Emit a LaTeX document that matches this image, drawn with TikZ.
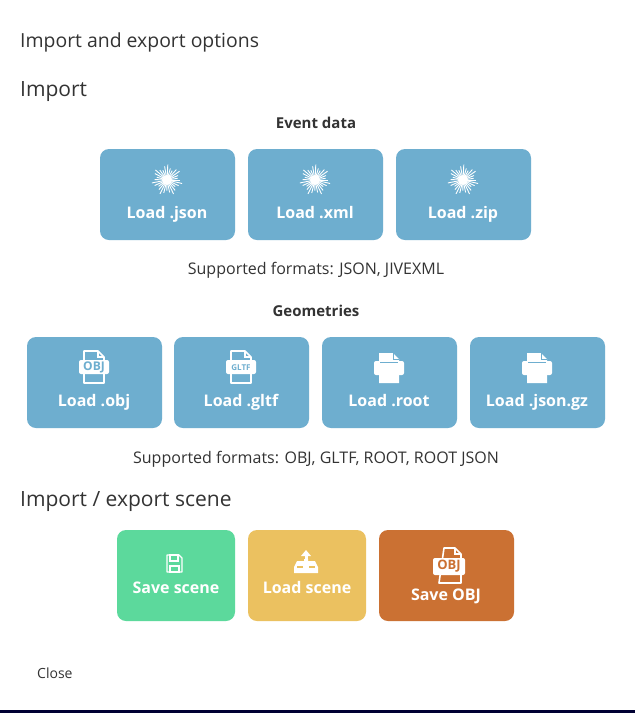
\documentclass[tikz,border=0pt]{standalone}
\usepackage{fontspec}
\setmainfont{Open Sans}
\begin{document}
\begin{tikzpicture}[x=1pt,y=-1pt,
  btn/.style={fill=#1,rounded corners=9pt,draw=none},
  btxt/.style={text=white,font=\fontsize{16}{18}\selectfont\bfseries,inner sep=0pt,anchor=base},
  lbl/.style={text=black!80,font=\fontsize{16}{18}\selectfont,inner sep=0pt},
  hdr/.style={text=black!80,font=\fontsize{21}{23}\selectfont,inner sep=0pt,anchor=west},
  ico/.style={draw=white,line width=1.6pt}]
\definecolor{bl}{HTML}{6EAECF}
\definecolor{gr}{HTML}{5CD99C}
\definecolor{ye}{HTML}{EBC160}
\definecolor{or}{HTML}{CB7133}
\useasboundingbox (0,0) rectangle (635,713);
\fill[white] (0,0) rectangle (635,713);
\fill[black!80!blue] (0,710) rectangle (635,713);
\node[hdr,font=\fontsize{19.4}{21}\selectfont] (title) at (20,42) {Import and export options};
\node[hdr] (imp) at (20,92) {Import};
\node[lbl,font=\fontsize{15}{17}\selectfont\bfseries] (ev) at (316,123) {Event data};
\newcommand{\burst}[2]{\foreach \a in {0,13,...,359}{\draw[white,line width=0.9pt] (#1,#2) -- ++(\a:{13+2.5*sin(7*\a)});}\fill[white] (#1,#2) circle (5);}
\newcommand{\fileicon}[4]{% x y label size
  \draw[ico,line join=round] (#1-10,#2-16) -- (#1+4,#2-16) -- (#1+10,#2-10) -- (#1+10,#2+16) -- (#1-10,#2+16) -- cycle;
  \draw[ico] (#1+4,#2-16) -- (#1+4,#2-10) -- (#1+10,#2-10);
  \fill[white,rounded corners=2pt] (#1-15,#2-7) rectangle (#1+15,#2+7);
  \node[text=bl,font=\fontsize{#4}{#4}\selectfont\bfseries,inner sep=0pt] at (#1,#2+0.5) {#3};}
\foreach \x/\t/\n in {167/json/a1,315/xml/a2,463/zip/a3}{
  \fill[btn=bl] (\x-67,149) rectangle (\x+68,240);
  \burst{\x}{180}
  \node[btxt] (\n) at (\x,218) {Load .\t};
}
\node[lbl] (sf1) at (316,270) {Supported formats: JSON, JIVEXML};
\node[lbl,font=\fontsize{15}{17}\selectfont\bfseries] (geo) at (316,311) {Geometries};
\foreach \x/\t/\n in {94/obj/b1,241/gltf/b2,389/root/b3,537/json.gz/b4}{
  \fill[btn=bl] (\x-67,337) rectangle (\x+68,428);
  \node[btxt] (\n) at (\x,406) {Load .\t};
}
\fileicon{94}{367}{OBJ}{12}
\fileicon{241}{367}{GLTF}{8}
\foreach \x in {389,537}{
  \fill[white] (\x-10,353) -- (\x+4,353) -- (\x+10,359) -- (\x+10,383) -- (\x-10,383) -- cycle;
  \fill[white,rounded corners=2pt] (\x-15,361) rectangle (\x+15,375);
  \draw[bl,line width=1pt] (\x-9,362) -- (\x+9,362);
  \draw[bl,line width=1pt] (\x+4,353) -- (\x+4,359) -- (\x+10,359);
}
\node[lbl] (sf2) at (316,459) {Supported formats: OBJ, GLTF, ROOT, ROOT JSON};
\node[hdr] (sc) at (20,502) {Import / export scene};
\fill[btn=gr] (117,530) rectangle (235,621);
\fill[btn=ye] (248,530) rectangle (366,621);
\fill[btn=or] (379,530) rectangle (514,621);
% floppy
\draw[ico,line width=1.3pt,line join=round] (167,555) -- (179,555) -- (182,558) -- (182,572) -- (167,572) -- cycle;
\draw[ico,line width=1.3pt] (170,555) rectangle (178,561);
\draw[ico,line width=1.3pt] (170,566) rectangle (179,572);
\node[btxt] (s1) at (176,593) {Save scene};
% upload tray
\fill[white] (297,561) -- (304,561) -- (304,559) -- (308,559) -- (308,561) -- (315,561) -- (318,567) -- (318,573) -- (294,573) -- (294,567) -- cycle;
\fill[ye] (297,566) rectangle (303,568);\fill[ye] (309,566) rectangle (315,568);
\fill[white] (301,556) -- (306,550) -- (311,556) -- cycle;
\fill[white] (304.5,555) rectangle (307.5,560);
\node[btxt] (s2) at (307,593) {Load scene};
% save obj
\draw[ico,line join=round] (444,548) -- (455,548) -- (461,554) -- (461,583) -- (439,583) -- cycle;
\draw[ico] (455,548) -- (455,554) -- (461,554);
\fill[white,rounded corners=2pt] (433,558) rectangle (465,575);
\node[text=or,font=\fontsize{13}{13}\selectfont\bfseries,inner sep=0pt] at (449,566.5) {OBJ};
\node[btxt] (s3) at (446,600) {Save OBJ};
\node[lbl,anchor=west,font=\fontsize{14}{16}\selectfont] (close) at (37,673) {Close};
\end{tikzpicture}
\end{document}
